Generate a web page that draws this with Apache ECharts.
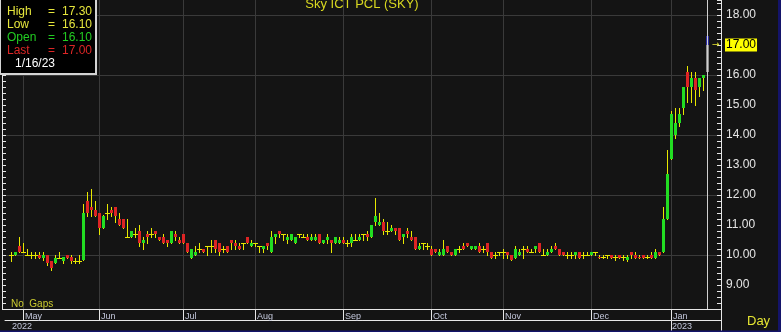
<!DOCTYPE html>
<html><head><meta charset="utf-8">
<script src="https://cdn.jsdelivr.net/npm/echarts@6/dist/echarts.min.js"></script>
<style>html,body{margin:0;padding:0;background:#141414;}#c{width:781px;height:332px;}</style>
</head><body><div id="c"></div>
<script>
// ---- data ----
const opens = [
10.0,10.0,10.3,10.1,10.0,10.0,10.0,10.0,9.9,10.0,
9.8,9.75,9.9,9.8,10.0,9.95,9.8,9.8,9.85,11.8,
11.6,11.5,11.4,10.9,11.4,11.5,11.6,11.2,11.2,10.6,
10.6,10.7,10.8,10.4,10.7,10.7,10.8,10.6,10.6,10.5,
10.4,10.7,10.5,10.7,10.4,9.9,10.0,10.2,10.2,10.3,
10.3,10.5,10.4,10.2,10.3,10.5,10.4,10.3,10.4,10.6,
10.3,10.4,10.3,10.2,10.4,10.1,10.6,10.8,10.7,10.5,
10.5,10.4,10.7,10.6,10.6,10.5,10.5,10.7,10.4,10.5,
10.5,10.4,10.4,10.5,10.4,10.4,10.5,10.5,10.7,10.7,
10.6,11.1,11.0,11.1,10.8,10.8,10.9,10.9,10.6,10.8,
10.6,10.6,10.2,10.4,10.3,10.2,10.2,10.0,10.0,10.3,
10.1,10.0,10.2,10.3,10.4,10.2,10.2,10.3,10.2,10.4,
10.1,10.0,10.1,10.1,10.1,10.0,9.9,10.0,10.2,10.2,
10.1,10.2,10.4,10.0,10.0,10.1,10.3,10.2,10.1,10.0,
10.0,10.0,10.1,10.0,10.0,10.0,10.1,9.95,9.95,10.0,
10.0,9.95,10.0,9.95,9.85,10.1,10.0,9.95,10.0,9.95,
10.0,9.9,10.1,10.1,11.2,13.2,14.0,14.4,14.9,16.1,
15.6,15.9,15.6,15.9,16.1];
const highs = [
10.1,10.1,10.6,10.4,10.2,10.1,10.1,10.1,10.1,10.0,
9.8,10.0,10.1,9.95,10.0,10.0,9.9,10.0,11.7,12.1,
12.2,11.8,11.4,11.35,11.7,11.6,11.6,11.4,11.2,11.2,
10.8,10.9,11.0,10.6,10.8,10.9,10.8,10.6,10.7,10.5,
10.8,10.8,10.6,10.7,10.4,10.2,10.3,10.4,10.2,10.3,
10.5,10.5,10.4,10.3,10.3,10.5,10.5,10.4,10.4,10.6,
10.5,10.4,10.3,10.3,10.4,10.8,10.7,10.8,10.7,10.7,
10.7,10.6,10.7,10.7,10.7,10.7,10.7,10.7,10.5,10.7,
10.5,10.6,10.6,10.6,10.5,10.7,10.7,10.7,10.7,10.8,
11.0,11.9,11.4,11.2,11.1,11.0,10.9,10.9,10.7,10.9,
10.8,10.6,10.4,10.4,10.4,10.3,10.2,10.2,10.5,10.3,
10.1,10.2,10.3,10.4,10.4,10.3,10.3,10.4,10.3,10.4,
10.1,10.1,10.1,10.2,10.1,10.0,10.3,10.2,10.3,10.3,
10.2,10.3,10.4,10.2,10.2,10.3,10.4,10.2,10.1,10.1,
10.1,10.1,10.1,10.1,10.1,10.1,10.1,10.0,10.0,10.0,
10.0,10.0,10.0,10.0,10.0,10.1,10.1,10.0,10.0,10.0,
10.1,10.2,10.1,11.6,13.5,14.8,14.9,14.9,15.6,16.3,
16.1,16.1,15.9,16.0,17.3];
const lows = [
9.8,10.0,10.1,10.1,10.0,9.9,9.9,9.9,9.85,9.65,
9.5,9.75,9.9,9.75,9.9,9.75,9.75,9.75,9.85,11.3,
11.3,11.3,10.7,10.9,11.2,11.3,11.1,11.0,10.9,10.6,
10.6,10.6,10.3,10.2,10.4,10.6,10.6,10.5,10.4,10.3,
10.4,10.5,10.4,10.4,10.1,9.9,10.0,10.1,10.1,10.0,
10.1,10.1,10.0,10.1,10.1,10.2,10.2,10.2,10.2,10.4,
10.3,10.3,10.1,10.1,10.2,10.1,10.4,10.6,10.5,10.4,
10.5,10.4,10.6,10.6,10.5,10.5,10.5,10.4,10.4,10.4,
10.1,10.4,10.4,10.4,10.3,10.3,10.5,10.5,10.5,10.5,
10.6,11.0,11.0,10.7,10.7,10.8,10.7,10.5,10.4,10.6,
10.5,10.2,10.2,10.2,10.2,10.0,10.1,10.0,10.0,10.1,
10.0,10.0,10.1,10.2,10.3,10.2,10.2,10.1,10.1,10.0,
9.9,9.9,10.0,9.9,9.9,9.85,9.9,10.0,9.9,10.1,
10.1,10.1,10.1,10.0,10.0,10.1,10.2,10.0,10.0,9.9,
9.9,9.9,9.9,9.9,10.0,10.0,10.0,9.9,9.9,9.9,
9.9,9.85,9.9,9.85,9.8,9.9,9.9,9.9,9.9,9.9,
9.9,9.9,10.0,10.1,11.2,13.2,13.9,14.3,14.7,15.1,
15.1,15.0,15.3,15.5,16.1];
const closes = [
10.0,10.1,10.1,10.1,10.0,10.0,10.0,9.9,10.0,9.75,
9.55,9.9,9.9,9.95,9.9,9.8,9.8,9.8,11.4,11.4,
11.5,11.3,10.9,11.3,11.4,11.4,11.3,11.0,10.9,10.6,
10.8,10.7,10.4,10.5,10.6,10.7,10.7,10.5,10.4,10.4,
10.8,10.6,10.4,10.4,10.1,10.2,10.1,10.2,10.1,10.3,
10.3,10.2,10.1,10.2,10.1,10.4,10.3,10.2,10.4,10.4,
10.4,10.4,10.3,10.3,10.3,10.6,10.7,10.7,10.7,10.6,
10.7,10.6,10.7,10.6,10.5,10.6,10.6,10.4,10.5,10.6,
10.4,10.6,10.5,10.4,10.4,10.6,10.5,10.6,10.7,10.6,
11.0,11.3,11.1,10.8,10.8,10.9,10.8,10.5,10.7,10.7,
10.5,10.2,10.3,10.4,10.3,10.0,10.1,10.1,10.2,10.1,
10.0,10.2,10.2,10.2,10.3,10.3,10.3,10.1,10.2,10.1,
9.9,10.0,10.1,10.1,10.0,9.85,10.2,10.1,10.2,10.1,
10.1,10.3,10.1,10.0,10.1,10.2,10.2,10.0,10.0,10.0,
10.0,10.1,9.9,10.0,10.0,10.1,10.1,9.9,9.95,10.0,
9.9,9.95,9.9,9.95,9.95,10.0,9.9,9.9,9.9,9.95,
9.9,10.1,10.0,11.2,12.7,14.7,14.4,14.7,15.6,15.6,
15.9,15.5,15.9,16.0,17.0];
const monthNames = ['Apr','May','Jun','Jul','Aug','Sep','Oct','Nov','Dec','Jan'];
const monthYears = [2022,2022,2022,2022,2022,2022,2022,2022,2022,2023];
const monthDayCounts = [3,19,21,18,22,22,18,22,20,10];
const lastDateLabel = '1/16/23';
const titleText = 'Sky ICT PCL (SKY)';
const padStart = 1, padEnd = 3;

// ---- build categories ----
const categories = [];
const monthStartLabel = {};
const yearStartLabel = {};
for (let p = 0; p < padStart; p++) categories.push('padS' + p);
monthNames.forEach((m, mi) => {
  for (let d = 0; d < monthDayCounts[mi]; d++) {
    const idx = categories.length;
    if (d === 0 && mi > 0) monthStartLabel[idx] = m;
    if (d === 0 && (mi === 0 || monthYears[mi] !== monthYears[mi - 1])) yearStartLabel[idx] = String(monthYears[mi]);
    categories.push(m + ' ' + (d + 1) + ' ' + monthYears[mi]);
  }
});
for (let p = 0; p < padEnd; p++) categories.push('padE' + p);
const firstYearIdx = padStart;

const YEL = '#e8e800', GRN = '#22dd22', RED = '#dd2424', SEL = '#8c8c8c', SELW = '#2a2aa0';
const FONT = "'Liberation Sans', Arial, sans-serif";
const last = opens.length - 1;
const lastIdx = padStart + last;

const candleData = opens.map((o, i) => [padStart + i, o, closes[i], lows[i], highs[i]]);
const closeLine = [];
for (let p = 0; p < padStart; p++) closeLine.push('-');
closes.forEach(c => closeLine.push(c));

function renderCandle(params, api) {
  const i = api.value(0);
  const o = api.value(1), c = api.value(2), l = api.value(3), h = api.value(4);
  const pO = api.coord([i, o]), pC = api.coord([i, c]);
  const pL = api.coord([i, l]), pH = api.coord([i, h]);
  const cx = Math.round(pO[0]);
  const yH = Math.round(pH[1]), yL = Math.round(pL[1]);
  const top = Math.round(Math.min(pO[1], pC[1])), bot = Math.round(Math.max(pO[1], pC[1]));
  const isLast = params.dataIndex === last;
  const ch = [];
  if (isLast) {
    if (top - yH > 0) ch.push({type: 'rect', shape: {x: cx - 1, y: yH, width: 3, height: top - yH}, style: {fill: SELW}});
    ch.push({type: 'rect', shape: {x: cx - 1, y: top, width: 3, height: Math.max(1, bot - top)}, style: {fill: SEL}});
    if (yL > bot) ch.push({type: 'line', shape: {x1: cx + 0.5, y1: bot, x2: cx + 0.5, y2: yL + 1}, style: {stroke: SELW, lineWidth: 1}});
    return {type: 'group', children: ch};
  }
  ch.push({type: 'line', shape: {x1: cx + 0.5, y1: yH, x2: cx + 0.5, y2: yL + 1}, style: {stroke: YEL, lineWidth: 1}});
  if (bot - top < 1) {
    ch.push({type: 'line', shape: {x1: cx - 2, y1: top + 0.5, x2: cx + 3, y2: top + 0.5}, style: {stroke: YEL, lineWidth: 1}});
  } else {
    ch.push({type: 'rect', shape: {x: cx - 1, y: top, width: 3, height: bot - top}, style: {fill: c > o ? GRN : RED}});
  }
  return {type: 'group', children: ch};
}

// split line colors: ticks every 0.2 from 8.2; lines at even integers (index 9 mod 10)
const splitColors = [];
for (let k = 0; k < 10; k++) splitColors.push(k === 9 ? '#3a3a3a' : 'rgba(0,0,0,0)');

const chart = echarts.init(document.getElementById('c'), null, {renderer: 'canvas'});
const yCommon = {type: 'value', min: 8.2, max: 18.5, interval: 0.2, scale: true};
chart.setOption({
  backgroundColor: '#141414',
  animation: false,
  grid: {left: 5, right: 60, top: 0, bottom: 23, containLabel: false},
  xAxis: [
    {type: 'category', data: categories, boundaryGap: true, position: 'bottom',
     axisLine: {show: true, lineStyle: {color: '#e6e6e6', width: 1}},
     axisTick: {show: true, alignWithLabel: true, length: 11, interval: (i) => monthStartLabel[i] !== undefined, lineStyle: {color: '#e6e6e6'}},
     axisLabel: {show: true, interval: (i) => monthStartLabel[i] !== undefined, formatter: (v, i) => monthStartLabel[i] || '',
       align: 'left', padding: [0, 0, 0, 2], margin: 3, color: '#c4c8dc', fontSize: 9, fontFamily: FONT, verticalAlign: 'top'},
     splitLine: {show: true, alignWithLabel: true, interval: (i) => monthStartLabel[i] !== undefined, lineStyle: {color: '#3a3a3a', width: 1}}
    },
    {type: 'category', data: categories, boundaryGap: true, position: 'bottom', offset: 11,
     axisLine: {show: true, lineStyle: {color: '#e6e6e6', width: 1}},
     axisTick: {show: true, alignWithLabel: true, length: 12, interval: (i) => yearStartLabel[i] !== undefined && i !== firstYearIdx, lineStyle: {color: '#e6e6e6'}},
     axisLabel: {show: true, interval: (i) => yearStartLabel[i] !== undefined, formatter: (v, i) => yearStartLabel[i] || '',
       align: 'left', padding: [0, 0, 0, 1], margin: 2, color: '#c4c8dc', fontSize: 9, fontFamily: FONT, verticalAlign: 'top'},
     splitLine: {show: false}
    }
  ],
  yAxis: [
    Object.assign({}, yCommon, {position: 'right',
      axisLine: {show: true, lineStyle: {color: '#e6e6e6', width: 1}},
      axisTick: {show: true, inside: true, length: 4, lineStyle: {color: '#e6e6e6'}},
      axisLabel: {show: true, margin: 5, color: '#e6e6e6', fontSize: 12, fontFamily: FONT,
        formatter: (v) => Math.abs(v - Math.round(v)) < 1e-6 ? v.toFixed(2) : ''},
      splitLine: {show: true, lineStyle: {color: splitColors, width: 1}}
    }),
    Object.assign({}, yCommon, {position: 'left', offset: 3,
      axisLine: {show: true, lineStyle: {color: '#e6e6e6', width: 1}},
      axisTick: {show: true, inside: true, length: 4, lineStyle: {color: '#e6e6e6'}},
      axisLabel: {show: false},
      splitLine: {show: false}
    })
  ],
  series: [
    {type: 'line', name: 'lastref', xAxisIndex: 0, yAxisIndex: 0, data: closeLine, showSymbol: false, silent: true,
     lineStyle: {opacity: 0, width: 0}, z: 1,
     markLine: {silent: true, symbol: ['none', 'none'], animation: false,
       data: [
         {xAxis: categories[lastIdx], lineStyle: {color: '#d0d0d0', width: 1, type: 'solid', opacity: 1}, label: {show: false}},
         {yAxis: closes[last], lineStyle: {color: 'rgba(0,0,0,0)', width: 0, type: 'solid'},
          label: {show: true, position: 'end', distance: 4, formatter: closes[last].toFixed(2), color: '#000000',
            backgroundColor: '#ffff00', padding: [1, 1, 0, 1], fontSize: 12, fontFamily: FONT}}
       ]}
    },
    {type: 'custom', name: 'SKY', xAxisIndex: 0, yAxisIndex: 0, silent: true, z: 3,
     data: candleData, encode: {x: 0, y: [1, 2, 3, 4]}, renderItem: renderCandle}
  ]
});

// decorations
const yLast = chart.convertToPixel({yAxisIndex: 0}, closes[last]);
const legendRows = [
  ['High', highs[last], '#e6e63c'],
  ['Low', lows[last], '#e6e63c'],
  ['Open', opens[last], '#22cc22'],
  ['Last', closes[last], '#dc2626']
];
const g = [
  {type: 'text', x: 362, y: -2, z: 100, style: {text: titleText, align: 'center', verticalAlign: 'top', fill: '#d8d820', font: '13px ' + FONT}},
  {type: 'rect', shape: {x: 0, y: -2, width: 96, height: 76}, z: 100, style: {fill: '#000000', stroke: '#d4d4d4', lineWidth: 2}},
  {type: 'text', x: 15, y: 64, z: 101, style: {text: lastDateLabel, align: 'left', verticalAlign: 'middle', fill: '#ffffff', font: '12px ' + FONT}},
  {type: 'text', x: 11, y: 304, z: 100, style: {text: 'No  Gaps', align: 'left', verticalAlign: 'middle', fill: '#cccc30', font: '10px ' + FONT}},
  {type: 'text', x: 747, y: 321, z: 100, style: {text: 'Day', align: 'left', verticalAlign: 'middle', fill: '#e6e632', font: '13px ' + FONT}},
  {type: 'text', x: 712, y: yLast, z: 100, style: {text: '→', align: 'left', verticalAlign: 'middle', fill: '#e6e632', font: '9px DejaVu Sans'}},
  {type: 'line', z: 100, shape: {x1: 721.5, y1: 309, x2: 721.5, y2: 332}, style: {stroke: '#e6e6e6', lineWidth: 1}},
  {type: 'rect', z: 100, shape: {x: 0, y: 330.5, width: 781, height: 2}, style: {fill: '#14146a'}},
  {type: 'rect', z: 100, shape: {x: 778, y: 0, width: 3, height: 332}, style: {fill: '#14146a'}}
];
legendRows.forEach((r, k) => {
  const y = 11.7 + k * 13;
  g.push({type: 'text', x: 7, y: y, z: 101, style: {text: r[0], align: 'left', verticalAlign: 'middle', fill: r[2], font: '12px ' + FONT}});
  g.push({type: 'text', x: 48, y: y, z: 101, style: {text: '=', align: 'left', verticalAlign: 'middle', fill: r[2], font: '12px ' + FONT}});
  g.push({type: 'text', x: 62, y: y, z: 101, style: {text: r[1].toFixed(2), align: 'left', verticalAlign: 'middle', fill: r[2], font: '12px ' + FONT}});
});
chart.setOption({graphic: g});
</script>
</body></html>
